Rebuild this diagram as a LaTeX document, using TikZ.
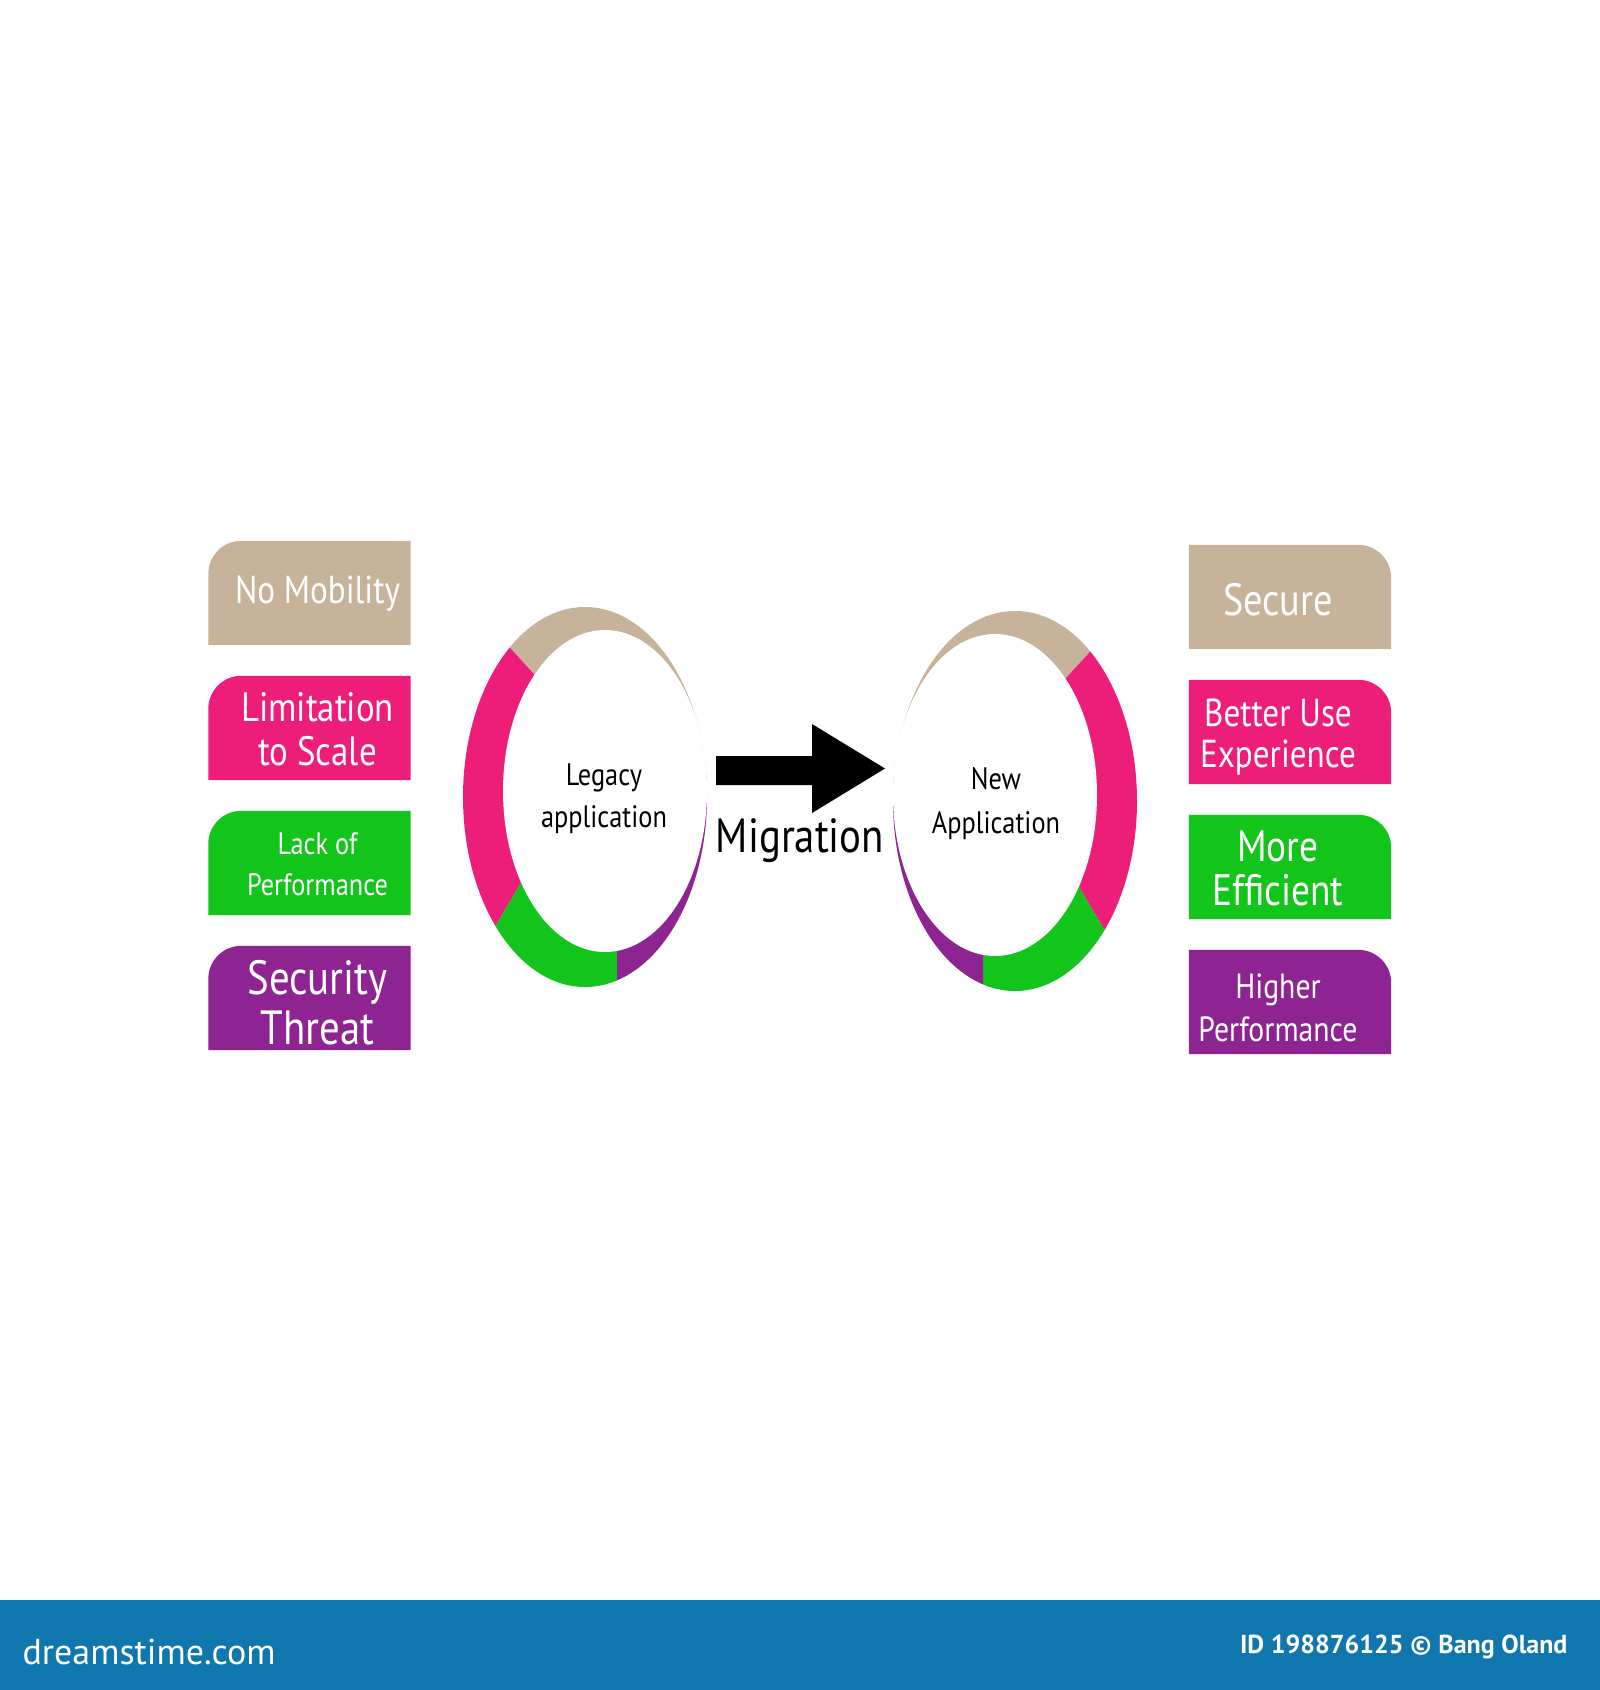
\documentclass[tikz,border=0pt]{standalone}
\usepackage{fontspec}
\setsansfont{PT Sans}
\newfontfamily\comicish[FakeStretch=0.85]{PT Sans}
\usepackage{tikz}
\usepackage{xcolor}

\definecolor{tanc}{HTML}{C7B39A}
\definecolor{pinkc}{HTML}{EC1E79}
\definecolor{greenc}{HTML}{13C41B}
\definecolor{purplec}{HTML}{8E2492}
\definecolor{footc}{HTML}{1077AE}

\tikzset{
  catbox/.style={minimum width=202pt, minimum height=104pt, inner sep=0pt},
  boxtxt/.style 2 args={text=white, align=center, inner sep=0pt, font=\comicish\fontsize{#1}{#2}\selectfont},
  ringtxt/.style={text=black, align=center, font=\comicish\fontsize{31}{42}\selectfont},
  appring/.pic={
    \begin{scope}
      \clip (585,797) ellipse [x radius=122, y radius=190];
      \fill[tanc] (420,549) -- (585,730) -- (800,760) -- (800,540) -- cycle;
      \fill[pinkc] (420,549) -- (585,730) -- (564,810) -- (449,1005) -- (400,1005) -- (400,549) -- cycle;
      \fill[greenc] (449,1005) -- (564,810) -- (617,810) -- (617,1010) -- cycle;
      \fill[purplec] (617,1010) -- (617,810) -- (564,810) -- (585,730) -- (800,760) -- (800,1010) -- cycle;
    \end{scope}
    \fill[white] (605,791) ellipse [x radius=102, y radius=161];
  }
}

\begin{document}
\begin{tikzpicture}[x=1pt, y=-1pt]
  \useasboundingbox (0,0) rectangle (1600,1690);

  % rings
  \pic at (0,0) {appring};
  \pic[xscale=-1] at (1600,4) {appring};
  \node[ringtxt] (legacy) at (604,799) {Legacy\\application};
  \node[ringtxt, font=\comicish\fontsize{31}{44}\selectfont] (newapp) at (996,804) {New\\Application};

  % migration arrow
  \fill[black] (716,756) -- (812,756) -- (812,724) -- (885,768.5) -- (812,813) -- (812,785) -- (716,785) -- cycle;
  \node[font=\comicish\fontsize{48}{52}\selectfont] (migr) at (800,841) {Migration};

  % boxes, one rounded corner on the outer side
  \foreach \n/\c/\yy in {nomob/tanc/593, limit/pinkc/728, lack/greenc/863, threat/purplec/998}{
    \node[catbox] (\n) at (309.5,\yy) {};
    \fill[\c] (\n.south west) [rounded corners=33pt] -- (\n.north west) [sharp corners] -- (\n.north east) -- (\n.south east) -- cycle;
  }
  \foreach \n/\c/\yy in {secure/tanc/597, better/pinkc/732, effic/greenc/867, higher/purplec/1002}{
    \node[catbox] (\n) at (1290,\yy) {};
    \fill[\c] (\n.south east) [rounded corners=33pt] -- (\n.north east) [sharp corners] -- (\n.north west) -- (\n.south west) -- cycle;
  }

  % box texts
  \node[boxtxt={39}{45}] (nomobtxt) at ([xshift=8pt, yshift=-1pt]nomob) {No Mobility};
  \node[boxtxt={41}{44}] (limittxt) at ([xshift=8pt, yshift=-1pt]limit) {Limitation\\to Scale};
  \node[boxtxt={31}{41}] (lacktxt) at ([xshift=8pt, yshift=-1pt]lack) {Lack of\\Performance};
  \node[boxtxt={48}{50}] (threattxt) at ([xshift=8pt, yshift=-5pt]threat) {Security\\Threat};
  \node[boxtxt={45}{48}] (securetxt) at ([xshift=-12pt, yshift=-3pt]secure) {Secure};
  \node[boxtxt={39}{41}] (bettertxt) at ([xshift=-12pt, yshift=-5pt]better) {Better Use\\Experience};
  \node[boxtxt={44}{44}] (effictxt) at ([xshift=-12pt, yshift=-1pt]effic) {More\\Efficient};
  \node[boxtxt={35}{43}] (highertxt) at ([xshift=-12pt, yshift=-6pt]higher) {Higher\\Performance};

  % footer
  \fill[footc] (0,1600) rectangle (1600,1690);
  \node[anchor=west, text=white, font=\sffamily\fontsize{36}{40}\selectfont] (logo) at (19,1652) {dreamstime.com};
  \node[anchor=east, text=white, font=\sffamily\bfseries\fontsize{26}{30}\selectfont] (credit) at (1571,1647) {ID 198876125 © Bang Oland};
\end{tikzpicture}
\end{document}
